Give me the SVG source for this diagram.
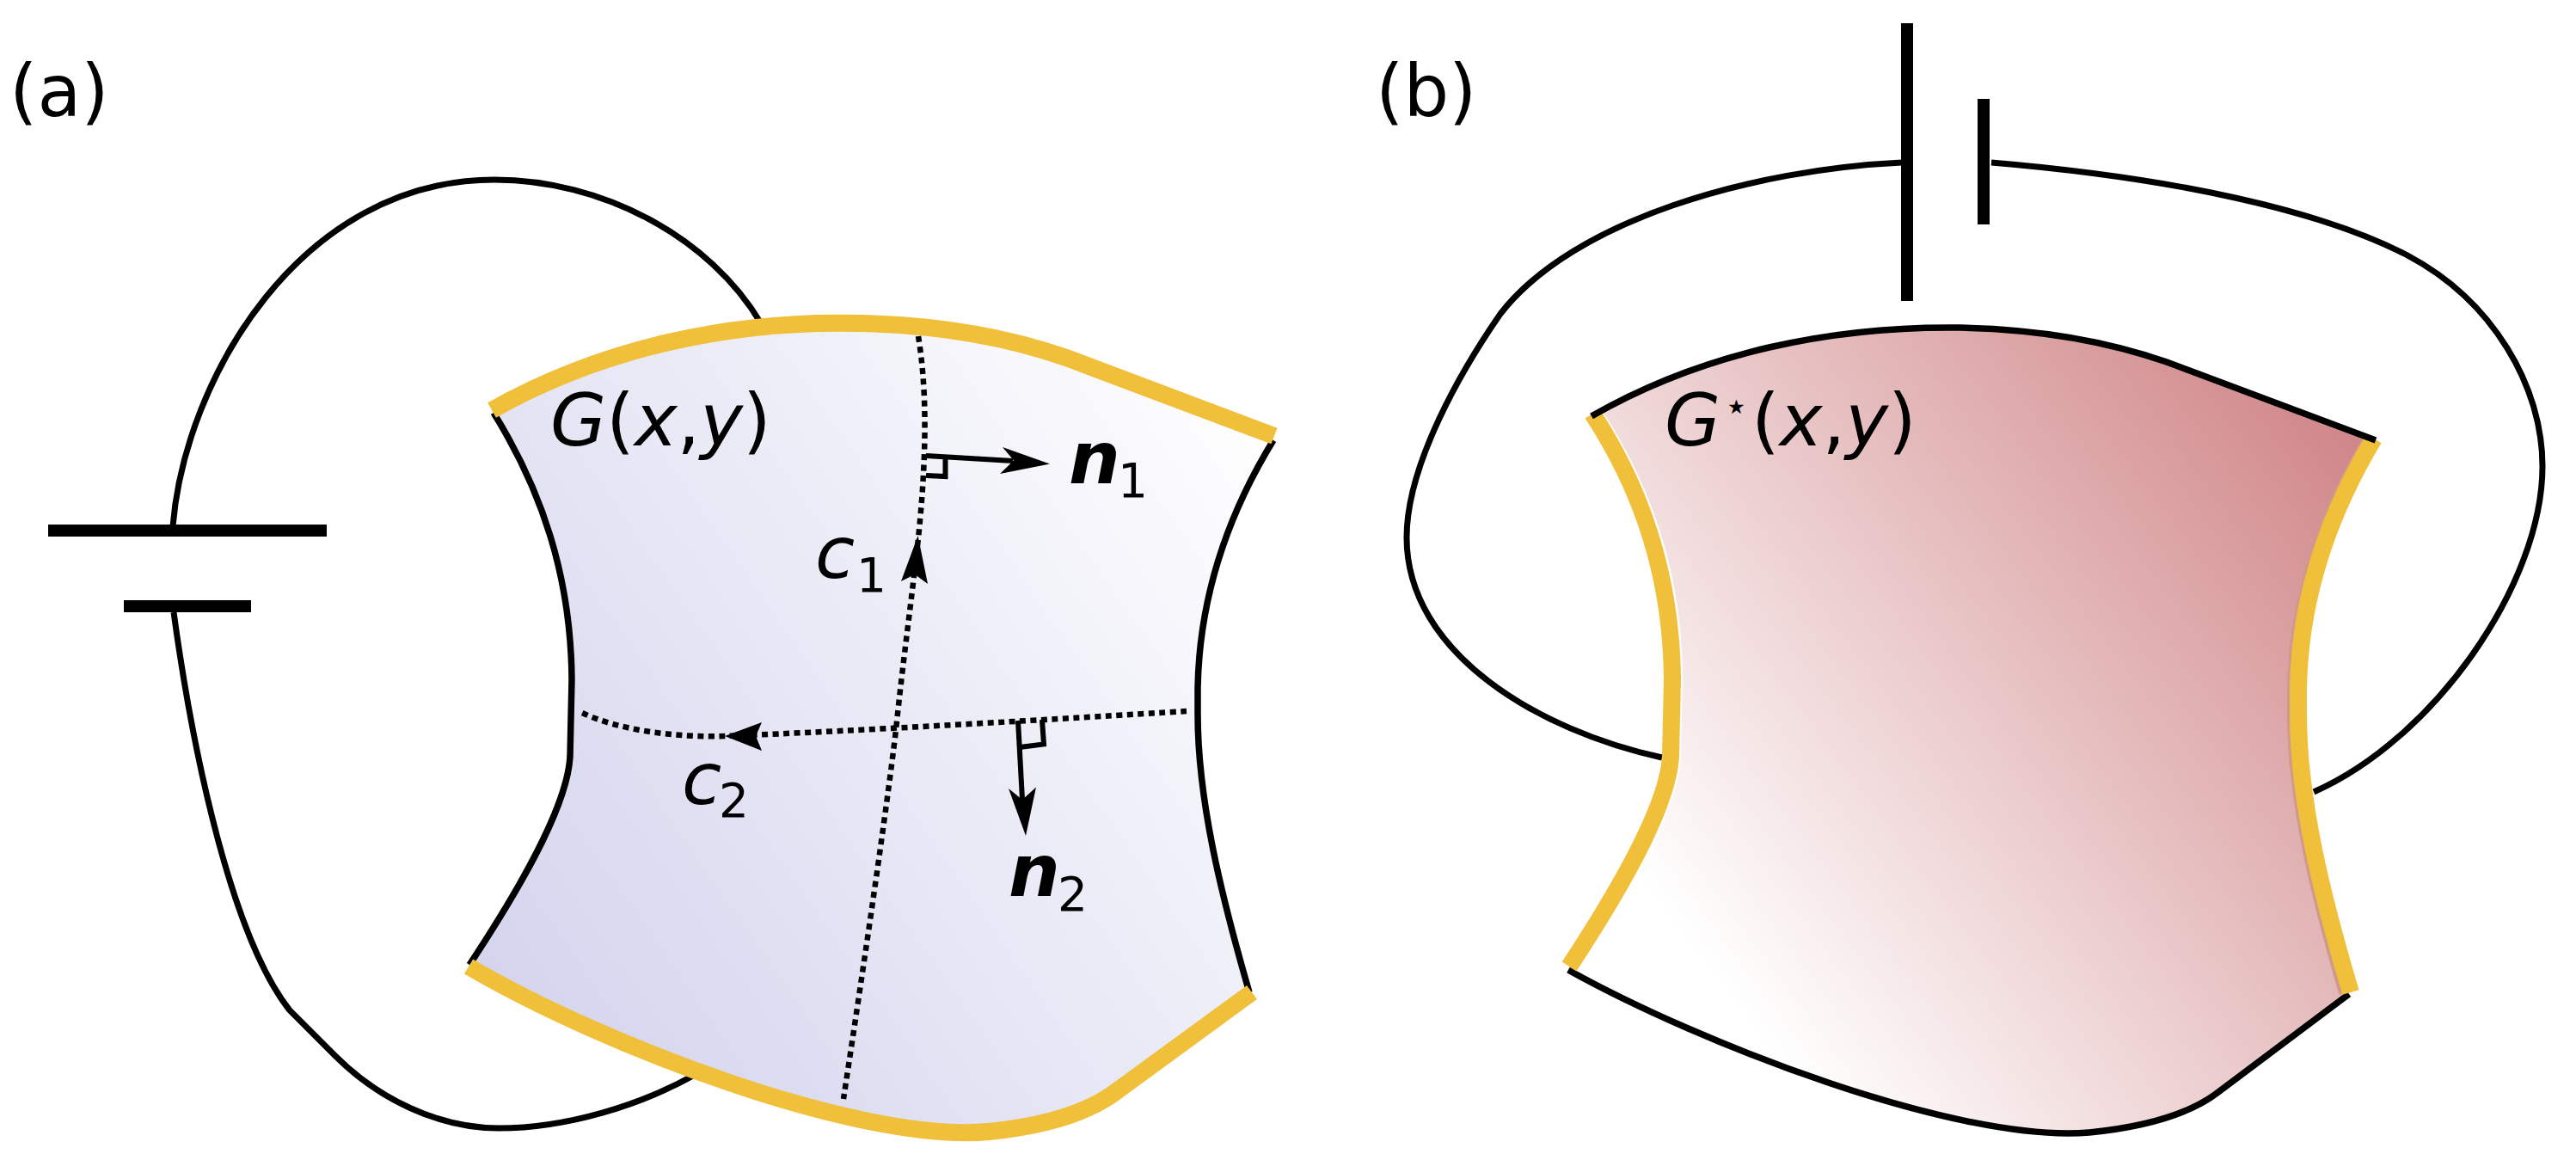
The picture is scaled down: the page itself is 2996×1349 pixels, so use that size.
<svg xmlns="http://www.w3.org/2000/svg" width="2996" height="1349" viewBox="0 0 2996 1349">
<style>
text{font-family:"DejaVu Sans",sans-serif;fill:#000}
.big{font-size:84px;font-style:oblique}
.big tspan{font-style:normal}
.bold{font-size:84px;font-style:oblique;font-weight:bold}
.sub{font-size:55px}
.lab{font-size:83px}
.wire{fill:none;stroke:#000;stroke-width:7}
.edge{fill:none;stroke:#000;stroke-width:7.5}
.contact{fill:none;stroke:#f0c03a;stroke-width:20}
.plate{stroke:#000;stroke-width:14}
.dot{fill:none;stroke:#000;stroke-width:6.5;stroke-dasharray:7 5.5}
.thin{fill:none;stroke:#000;stroke-width:6}
</style>
<defs>
<linearGradient id="ga" gradientUnits="userSpaceOnUse" x1="560" y1="1130" x2="1480" y2="490"><stop offset="0" stop-color="#d4d4ee"/><stop offset="1" stop-color="#ffffff"/></linearGradient>
<linearGradient id="gb" gradientUnits="userSpaceOnUse" x1="1960" y1="1090" x2="2760" y2="490"><stop offset="0" stop-color="#ffffff"/><stop offset="1" stop-color="#cf8385"/></linearGradient>
</defs>
<rect width="2996" height="1349" fill="#fff"/>
<g id="connectors">
<path class="wire" d="M201,612 C215,440 350,209 575,209 C700,209 825,275 885,376"/>
<path class="wire" d="M202,712 C225,880 270,1090 337,1175 L390,1228 C440,1278 510,1312 580,1312 C660,1312 745,1285 808,1250"/>
<path class="wire" d="M2212,189 C2040,197 1830,255 1745,365 C1700,430 1636,540 1636,625 C1636,760 1790,850 1933,881"/>
<path class="wire" d="M2316,189 C2530,207 2700,245 2800,297 C2900,350 2957,450 2957,542 C2957,680 2830,860 2691,921"/>
</g>
<g id="battery-a">
<line class="plate" x1="56" y1="617" x2="380" y2="617"/>
<line class="plate" x1="144" y1="705" x2="292" y2="705"/>
</g>
<g id="battery-b">
<line class="plate" x1="2218" y1="27" x2="2218" y2="350"/>
<line class="plate" x1="2307" y1="115" x2="2307" y2="261"/>
</g>
<g id="sample-a">
<path fill="url(#ga)" d="M572,477 C700,405 850,372 1000,376 C1100,378 1180,395 1240,416 L1482,507 C1430,595 1395,690 1393,800 L1393,830 C1393,930 1420,1040 1456,1154 L1300,1268 C1265,1295 1210,1310 1150,1316 C1000,1330 700,1215 545,1124 C620,1010 660,930 663,880 L665,790 C664,670 630,570 572,477 Z"/>
<path class="edge" d="M574,480 C630,570 664,670 665,790 L663,880 C660,930 620,1010 546,1122"/>
<path class="edge" d="M1481,512 C1430,595 1395,690 1393,800 L1393,830 C1393,930 1420,1040 1453,1154"/>
<path class="contact" d="M572,477 C700,405 850,372 1000,376 C1100,378 1180,395 1240,416 L1482,507"/>
<path class="contact" d="M545,1124 C700,1215 1000,1330 1150,1316 C1210,1310 1265,1295 1300,1268 L1456,1154"/>
</g>
<g id="paths-a">
<path class="dot" d="M1068,391 C1076,440 1080,510 1068,626 C1060,700 1050,770 1042,849 C1030,950 1005,1120 981,1278"/>
<path class="dot" d="M1380,827 C1250,835 1000,850 844,856 C790,858 720,850 675,828"/>
<polygon points="1067.6,623 1048,676 1064,668 1079,679"/>
<polygon points="843,856 886,840 879,856 886,873"/>
<path class="thin" d="M1077,530 L1178,536"/>
<polygon points="1221,539.5 1166,520 1179,535.5 1163,551"/>
<path class="thin" d="M1099.5,532 L1099.5,554 L1077,553"/>
<path class="thin" d="M1184,838 L1189,930"/>
<polygon points="1193,972 1173,917 1189,930 1205,915.5"/>
<path class="thin" d="M1212,837 L1214,865.5 L1186,869"/>
</g>
<g id="sample-b">
<path fill="url(#gb)" d="M1853,483 C1980,410 2130,379 2280,381 C2380,383 2460,400 2520,421 L2763,512 C2710,595 2675,690 2673,800 L2673,830 C2673,930 2700,1040 2733,1154 L2580,1270 C2545,1297 2490,1311 2430,1317 C2280,1330 1980,1215 1824,1128 C1900,1010 1940,930 1943,880 L1945,790 C1944,670 1910,570 1853,483 Z"/>
<path fill="none" stroke="#cf9a8c" stroke-width="20" d="M2758,512 C2707,595 2672,690 2670,800 L2670,830 C2670,930 2697,1040 2730,1154"/>
<path fill="none" stroke="#fff" stroke-width="20" d="M1855,483 C1912,570 1947,670 1947,790 L1945,880 C1943,930 1904,1010 1828,1122"/>
<path class="edge" stroke-width="9" d="M1824,1128 C1980,1215 2280,1330 2430,1317 C2490,1311 2545,1297 2580,1270 L2732,1156"/>
<path class="contact" d="M1852,481 C1910,570 1944,670 1945,790 L1943,880 C1940,930 1900,1010 1825,1124"/>
<path class="contact" d="M2761,510 C2710,595 2675,690 2673,800 L2673,830 C2673,930 2700,1040 2734,1154"/>
<path class="edge" stroke-width="9" d="M1851,484 C1980,410 2130,379 2280,381 C2380,383 2460,400 2520,421 L2763,512"/>
</g>
<g id="labels">
<text class="lab" x="11" y="135">(a)</text>
<text class="lab" x="1600" y="135">(b)</text>
<text class="big" x="640" y="518">G<tspan>(</tspan>x<tspan>,</tspan>y<tspan>)</tspan></text>
<text class="big" x="1936" y="518">G</text>
<text x="2005" y="488" font-size="46">⋆</text>
<text class="big" x="2037" y="518"><tspan>(</tspan>x<tspan>,</tspan>y<tspan>)</tspan></text>
<text class="big" x="948" y="672">c</text>
<text class="sub" x="996" y="688">1</text>
<text class="big" x="793" y="935">c</text>
<text class="sub" x="836" y="950">2</text>
<text class="bold" x="1243" y="562">n</text>
<text class="sub" x="1300" y="578">1</text>
<text class="bold" x="1173" y="1042">n</text>
<text class="sub" x="1230" y="1059">2</text>
</g>
</svg>
